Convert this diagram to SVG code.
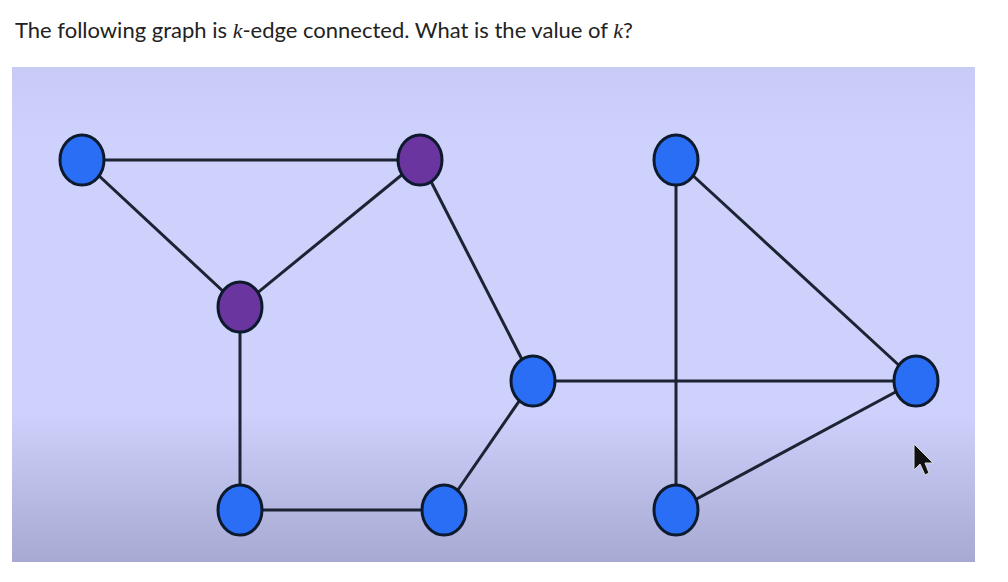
<svg xmlns="http://www.w3.org/2000/svg" width="1008" height="582" viewBox="0 0 1008 582">
<defs>
<linearGradient id="bg" x1="0" y1="0" x2="0" y2="1">
<stop offset="0" stop-color="#c7cbf5"/>
<stop offset="0.15" stop-color="#cdd1fb"/>
<stop offset="0.7" stop-color="#cdd1fb"/>
<stop offset="1" stop-color="#a7a9d2"/>
</linearGradient>
</defs>
<style>
.t{font-family:Lato,"Liberation Sans",sans-serif;font-size:22px;fill:#222}
.k{font-family:"Liberation Serif",serif;font-style:italic}
.e line{stroke:#1c2333;stroke-width:3}
.n ellipse{stroke:#0d1a2e;stroke-width:3}
.b{fill:#2a6ef5}
.p{fill:#6b35a0}
</style>
<rect width="1008" height="582" fill="#fff"/>
<text class="t" x="15" y="38">The following graph is <tspan class="k">k</tspan>-edge connected. What is the value of <tspan class="k">k</tspan>?</text>
<rect x="12" y="67" width="963" height="495" fill="url(#bg)"/>
<g id="connectors" class="e">
<line x1="82" y1="160" x2="420" y2="160"/>
<line x1="82" y1="160" x2="240" y2="307"/>
<line x1="420" y1="160" x2="240" y2="307"/>
<line x1="420" y1="160" x2="533" y2="381"/>
<line x1="240" y1="307" x2="240" y2="510"/>
<line x1="240" y1="510" x2="444" y2="510"/>
<line x1="444" y1="510" x2="533" y2="381"/>
<line x1="533" y1="381" x2="916" y2="381"/>
<line x1="676" y1="160" x2="916" y2="381"/>
<line x1="676" y1="160" x2="676" y2="510"/>
<line x1="676" y1="510" x2="916" y2="381"/>
</g>
<g class="n">
<g id="nA"><ellipse class="b" cx="82" cy="160" rx="22" ry="25"/></g>
<g id="nB"><ellipse class="p" cx="420" cy="160" rx="22" ry="25"/></g>
<g id="nC"><ellipse class="p" cx="240" cy="307" rx="22" ry="25"/></g>
<g id="nD"><ellipse class="b" cx="533" cy="381" rx="22" ry="25"/></g>
<g id="nE"><ellipse class="b" cx="240" cy="510" rx="22" ry="25"/></g>
<g id="nF"><ellipse class="b" cx="444" cy="510" rx="22" ry="25"/></g>
<g id="nG"><ellipse class="b" cx="676" cy="160" rx="22" ry="25"/></g>
<g id="nH"><ellipse class="b" cx="916" cy="381" rx="22" ry="25"/></g>
<g id="nI"><ellipse class="b" cx="676" cy="510" rx="22" ry="25"/></g>
</g>
<polygon points="914,444 914,470 920,464 925,475 929,473 925,463 933,463" fill="#111" stroke="#ddd" stroke-width="1"/>
</svg>
